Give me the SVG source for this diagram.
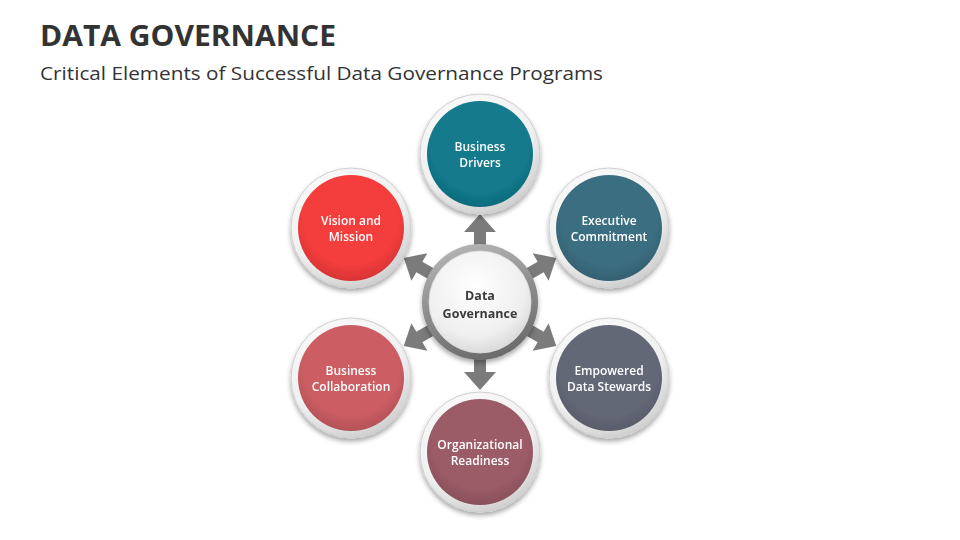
<svg xmlns="http://www.w3.org/2000/svg" width="960" height="540" viewBox="0 0 960 540">
<defs>
  <radialGradient id="ringG" cx="40%" cy="30%" r="75%">
    <stop offset="0" stop-color="#ffffff"/>
    <stop offset="0.7" stop-color="#f0f0f0"/>
    <stop offset="1" stop-color="#c9c9c9"/>
  </radialGradient>
  <linearGradient id="rimG" x1="0.3" y1="0" x2="0.6" y2="1">
    <stop offset="0" stop-color="#b5b5b5"/>
    <stop offset="0.5" stop-color="#8c8c8c"/>
    <stop offset="1" stop-color="#6a6a6a"/>
  </linearGradient>
  <radialGradient id="coreG" cx="45%" cy="35%" r="70%">
    <stop offset="0" stop-color="#ffffff"/>
    <stop offset="0.7" stop-color="#efefef"/>
    <stop offset="1" stop-color="#d4d4d4"/>
  </radialGradient>
  <radialGradient id="shade" cx="50%" cy="40%" r="60%">
    <stop offset="0.75" stop-color="#000" stop-opacity="0"/>
    <stop offset="1" stop-color="#000" stop-opacity="0.12"/>
  </radialGradient>
  <filter id="sh" x="-20%" y="-20%" width="140%" height="150%">
    <feGaussianBlur in="SourceAlpha" stdDeviation="2.5"/>
    <feOffset dx="0" dy="3" result="b"/>
    <feComponentTransfer><feFuncA type="linear" slope="0.35"/></feComponentTransfer>
    <feMerge><feMergeNode/><feMergeNode in="SourceGraphic"/></feMerge>
  </filter>
  <path id="arrow" d="M-6,-56 L-6,-70 L-16,-70 L0,-88 L16,-70 L6,-70 L6,-56 Z"/>
</defs>
<style>
  .title{font-family:"Open Sans","Liberation Sans",sans-serif;font-weight:700;font-size:29px;fill:#333333}
  .sub{font-family:"Open Sans","Liberation Sans",sans-serif;font-size:18px;fill:#333333}
  .lbl{font-family:"Open Sans","Liberation Sans",sans-serif;font-weight:600;font-size:12px;fill:#ffffff;text-anchor:middle}
  .clbl{font-family:"Open Sans","Liberation Sans",sans-serif;font-weight:700;font-size:12.5px;fill:#3a3a3a;text-anchor:middle}
  .ring{fill:url(#ringG);stroke:#cfcfcf;stroke-width:1}
  .arr{fill:#7b7b7b}
</style>
<rect width="960" height="540" fill="#ffffff"/>
<text class="title" x="40" y="46" textLength="296" lengthAdjust="spacingAndGlyphs">DATA GOVERNANCE</text>
<text class="sub" x="40" y="80" textLength="563" lengthAdjust="spacingAndGlyphs">Critical Elements of Successful Data Governance Programs</text>

<g id="connectors">
  <use href="#arrow" class="arr" transform="translate(480,302) rotate(0)"/>
  <use href="#arrow" class="arr" transform="translate(480,302) rotate(60)"/>
  <use href="#arrow" class="arr" transform="translate(480,302) rotate(120)"/>
  <use href="#arrow" class="arr" transform="translate(480,302) rotate(180)"/>
  <use href="#arrow" class="arr" transform="translate(480,302) rotate(240)"/>
  <use href="#arrow" class="arr" transform="translate(480,302) rotate(300)"/>
</g>

<g id="center" filter="url(#sh)">
  <circle cx="480" cy="302" r="58" fill="url(#rimG)"/>
  <circle cx="480" cy="302" r="51" fill="url(#coreG)" stroke="#dddddd" stroke-width="0.8"/>
  <text class="clbl" x="480" y="300">Data</text>
  <text class="clbl" x="480" y="318">Governance</text>
</g>

<g id="business-drivers" filter="url(#sh)">
  <circle class="ring" cx="480" cy="154" r="60"/>
  <circle cx="480" cy="154" r="53" fill="#127a8d"/>
  <circle cx="480" cy="154" r="53" fill="url(#shade)"/>
  <text class="lbl" x="480" y="151">Business</text>
  <text class="lbl" x="480" y="167">Drivers</text>
</g>

<g id="executive-commitment" filter="url(#sh)">
  <circle class="ring" cx="609" cy="228" r="60"/>
  <circle cx="609" cy="228" r="53" fill="#3b6e80"/>
  <circle cx="609" cy="228" r="53" fill="url(#shade)"/>
  <text class="lbl" x="609" y="225">Executive</text>
  <text class="lbl" x="609" y="241">Commitment</text>
</g>

<g id="empowered-data-stewards" filter="url(#sh)">
  <circle class="ring" cx="609" cy="378" r="60"/>
  <circle cx="609" cy="378" r="53" fill="#646877"/>
  <circle cx="609" cy="378" r="53" fill="url(#shade)"/>
  <text class="lbl" x="609" y="375">Empowered</text>
  <text class="lbl" x="609" y="391">Data Stewards</text>
</g>

<g id="organizational-readiness" filter="url(#sh)">
  <circle class="ring" cx="480" cy="452" r="60"/>
  <circle cx="480" cy="452" r="53" fill="#9b5b67"/>
  <circle cx="480" cy="452" r="53" fill="url(#shade)"/>
  <text class="lbl" x="480" y="449">Organizational</text>
  <text class="lbl" x="480" y="465">Readiness</text>
</g>

<g id="business-collaboration" filter="url(#sh)">
  <circle class="ring" cx="351" cy="378" r="60"/>
  <circle cx="351" cy="378" r="53" fill="#cc5d63"/>
  <circle cx="351" cy="378" r="53" fill="url(#shade)"/>
  <text class="lbl" x="351" y="375">Business</text>
  <text class="lbl" x="351" y="391">Collaboration</text>
</g>

<g id="vision-and-mission" filter="url(#sh)">
  <circle class="ring" cx="351" cy="228" r="60"/>
  <circle cx="351" cy="228" r="53" fill="#f43c3c"/>
  <circle cx="351" cy="228" r="53" fill="url(#shade)"/>
  <text class="lbl" x="351" y="225">Vision and</text>
  <text class="lbl" x="351" y="241">Mission</text>
</g>
</svg>
